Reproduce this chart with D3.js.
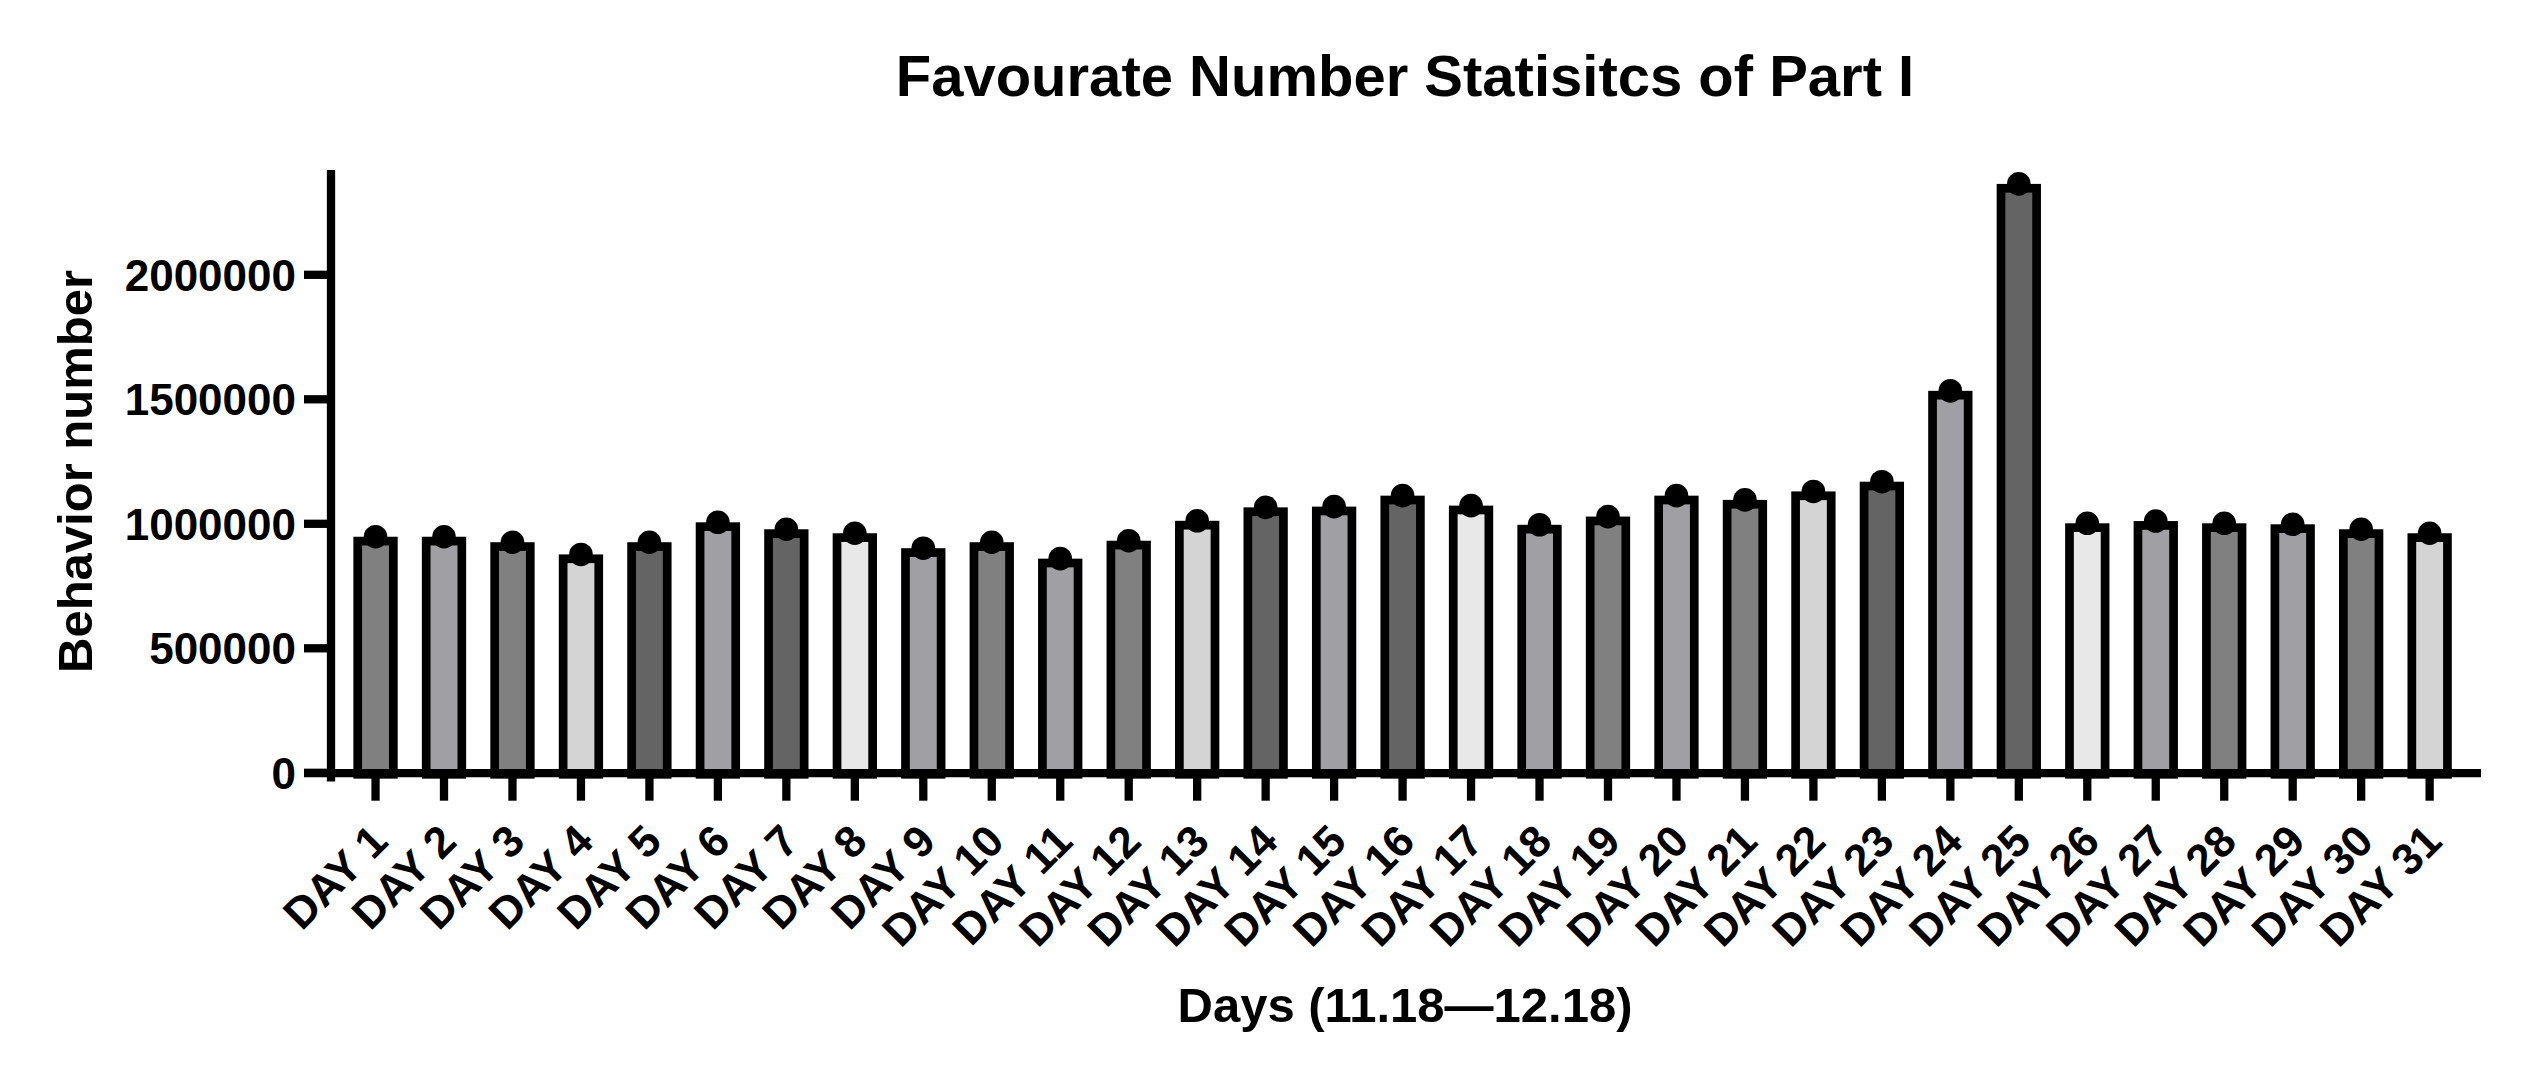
<!DOCTYPE html>
<html>
<head>
<meta charset="utf-8">
<script src="https://cdn.jsdelivr.net/npm/d3@7"></script>
<style>
  html, body { margin: 0; padding: 0; background: #ffffff; }
  svg { display: block; }
  text { font-family: "Liberation Sans", Arial, Helvetica, sans-serif; font-weight: bold; fill: #000; }
</style>
</head>
<body>
<svg id="chart" width="2534" height="1077"></svg>
<script>
// ---- data ----
const days = ["DAY 1","DAY 2","DAY 3","DAY 4","DAY 5","DAY 6","DAY 7","DAY 8","DAY 9","DAY 10",
  "DAY 11","DAY 12","DAY 13","DAY 14","DAY 15","DAY 16","DAY 17","DAY 18","DAY 19","DAY 20",
  "DAY 21","DAY 22","DAY 23","DAY 24","DAY 25","DAY 26","DAY 27","DAY 28","DAY 29","DAY 30","DAY 31"];
const behaviorNumbers = [946000, 946000, 924000, 875000, 924000, 1004000, 976000, 960000, 900000, 924000,
  858000, 930000, 1010000, 1064000, 1067000, 1111000, 1071000, 994000, 1027000, 1111000,
  1094000, 1128000, 1167000, 1532000, 2363000, 1000000, 1009000, 1000000, 996000, 976000, 960000];
const barFills = ["#808080","#a0a0a4","#808080","#d4d4d4","#646464","#a0a0a4","#646464","#e8e8e8","#a0a0a4","#808080",
  "#a0a0a4","#808080","#d4d4d4","#646464","#a0a0a4","#646464","#e8e8e8","#a0a0a4","#808080","#a0a0a4",
  "#808080","#d4d4d4","#646464","#a0a0a4","#646464","#e8e8e8","#a0a0a4","#808080","#a0a0a4","#808080","#d4d4d4"];
const yTicks = [0, 500000, 1000000, 1500000, 2000000];
const titleText = "Favourate Number Statisitcs of Part I";
const xTitle = "Days (11.18\u201412.18)";
const yTitle = "Behavior number";

// ---- layout ----
const svg = d3.select("#chart");
const axisX = 331, axisY = 773.2, axisRight = 2481, axisW = 8.3;
const x = d3.scaleBand().domain(days).range([341.3, 341.3 + 31 * 68.47]);
const y = d3.scaleLinear().domain([0, 2400000]).range([772.3, 772.3 - 2.4 * 249]);
const sw = 8.7;
const barW = x.step() * 0.52;

// bars
const g = svg.append("g");
g.selectAll("rect.bar").data(days).join("rect")
  .attr("class", "bar")
  .attr("x", d => x(d) + x.bandwidth() / 2 - barW / 2)
  .attr("y", (d, i) => y(behaviorNumbers[i]) + sw / 2)
  .attr("width", barW)
  .attr("height", (d, i) => y(0) - y(behaviorNumbers[i]) - sw / 2 + 2)
  .attr("fill", (d, i) => barFills[i])
  .attr("stroke", "#000")
  .attr("stroke-width", sw);

// dots
g.selectAll("circle.dot").data(days).join("circle")
  .attr("class", "dot")
  .attr("cx", d => x(d) + x.bandwidth() / 2)
  .attr("cy", (d, i) => y(behaviorNumbers[i]))
  .attr("r", 11.8)
  .attr("fill", "#000");

// y axis
const yAxis = d3.axisLeft(y).tickValues(yTicks).tickFormat(d3.format("d")).tickSize(27).tickPadding(8);
const ya = svg.append("g").attr("transform", `translate(${axisX},0)`).call(yAxis);
ya.select(".domain").remove();
ya.selectAll(".tick line").attr("stroke", "#000").attr("stroke-width", axisW);
ya.selectAll(".tick text")
  .attr("font-size", 44).attr("dy", null).attr("y", 15.7)
  .style("font-family", '"Liberation Sans", Arial, sans-serif').style("font-weight", "bold");
svg.append("line")
  .attr("x1", axisX).attr("x2", axisX)
  .attr("y1", y(2400000) - 0.5).attr("y2", axisY + axisW / 2)
  .attr("stroke", "#000").attr("stroke-width", axisW).attr("stroke-linecap", "square");

// x axis
const xAxis = d3.axisBottom(x).tickSize(27.5).tickFormat(d => d);
const xa = svg.append("g").attr("transform", `translate(0,${axisY})`).call(xAxis);
xa.select(".domain").remove();
xa.selectAll(".tick line").attr("stroke", "#000").attr("stroke-width", axisW);
xa.selectAll(".tick text")
  .attr("font-size", 44)
  .attr("text-anchor", "end")
  .attr("dy", null).attr("y", null)
  .attr("transform", "translate(14.5,70.4) rotate(-45)")
  .style("font-family", '"Liberation Sans", Arial, sans-serif').style("font-weight", "bold");
svg.append("line")
  .attr("x1", 304).attr("x2", axisRight)
  .attr("y1", axisY).attr("y2", axisY)
  .attr("stroke", "#000").attr("stroke-width", axisW);

// titles
svg.append("text").attr("x", 1405).attr("y", 95.7).attr("text-anchor", "middle")
  .attr("font-size", 58).text(titleText);
svg.append("text").attr("x", 1405).attr("y", 1021.7).attr("text-anchor", "middle")
  .attr("font-size", 49).text(xTitle);
svg.append("text").attr("transform", "translate(91.5,471.5) rotate(-90)").attr("text-anchor", "middle")
  .attr("font-size", 49).text(yTitle);
</script>
</body>
</html>
